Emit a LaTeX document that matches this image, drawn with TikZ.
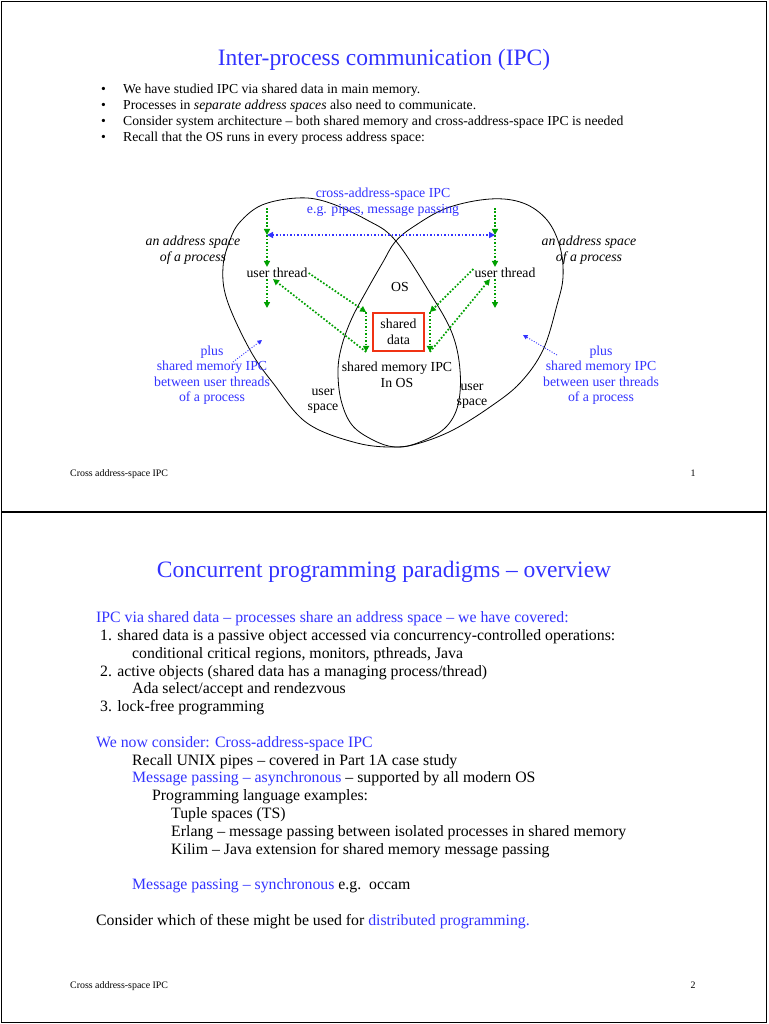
\documentclass[tikz,border=0pt]{standalone}
\usepackage{fontspec}
\setmainfont{Liberation Serif}
\usetikzlibrary{arrows.meta}
\definecolor{ipcblue}{RGB}{51,51,255}
\definecolor{ipcgreen}{RGB}{0,160,0}
\definecolor{ipcred}{RGB}{240,50,20}
\tikzset{
  slidetitle/.style={font=\fontsize{23.5}{28}\selectfont, text=ipcblue, anchor=base, inner sep=0pt},
  bodyA/.style={font=\fontsize{13.7}{16}\selectfont, anchor=base west, inner sep=0pt},
  bodyB/.style={font=\fontsize{15.8}{18}\selectfont, anchor=base west, inner sep=0pt},
  lbl/.style={font=\fontsize{13.8}{15.5}\selectfont, align=center, inner sep=1pt},
  footer/.style={font=\fontsize{9.9}{11}\selectfont, anchor=base west, inner sep=0pt},
  garrow/.style={ipcgreen, line width=1.7pt, dash pattern=on 1.7pt off 1.8pt, -{Triangle[length=6pt,width=6pt]}},
  barrow/.style={ipcblue, line width=1.7pt, dash pattern=on 1.7pt off 1.8pt, {Triangle[length=6pt,width=6pt]}-{Triangle[length=6pt,width=6pt]}},
  bthin/.style={ipcblue, line width=0.9pt, dash pattern=on 1pt off 1.6pt, -{Triangle[length=4.5pt,width=4.5pt]}}
}
\begin{document}
\begin{tikzpicture}[x=1pt,y=-1pt]
\useasboundingbox (0,0) rectangle (768,1024);
% frames of the two slides
\draw[line width=1.5pt] (1.5,1.5) rectangle (766.5,1022.5);
\draw[line width=1.5pt] (1.5,512) -- (766.5,512);

% ---------- slide 1 ----------
\node[slidetitle] (t1) at (384,66) {Inter-process communication (IPC)};
\foreach \txt [count=\i] in {We have studied IPC via shared data in main memory.,
    Processes in \textit{separate address spaces} also need to communicate.,
    Consider system architecture – both shared memory and cross-address-space IPC is needed,
    Recall that the OS runs in every process address space:}{
  \node[bodyA] (dot\i) at (101,78+16*\i) {\textbullet};
  \node[bodyA] (b\i) at (123,78+16*\i) {\txt};
}

% the two address spaces
\draw[line width=0.8pt] plot[smooth cycle, tension=0.6] coordinates {(297,198) (327,202) (367,220) (395,240) (430,293) (452,333) (460,370) (458,405) (445,428) (420,442) (397,447) (357,443) (307,423) (273,383) (250,350) (227,300) (223,267) (230,240) (240,222) (262,205)};
\draw[line width=0.8pt] plot[smooth cycle, tension=0.6] coordinates {(490,199) (523,203) (547,220) (560,247) (563,277) (557,305) (543,350) (520,383) (490,407) (453,430) (420,443) (395,447) (373,440) (352,425) (341,400) (338,370) (342,345) (352,318) (367,290) (383,262) (395,242) (413,227) (447,208)};

\node[lbl, text=ipcblue] (cross) at (383,202) {cross-address-space IPC\\e.g. pipes, message passing};
\node[lbl, font=\fontsize{13.8}{15.5}\selectfont\itshape] (las) at (193,250) {an address space\\of a process};
\node[lbl, font=\fontsize{13.8}{15.5}\selectfont\itshape] (ras) at (589,250) {an address space\\of a process};
\node[lbl] (lut) at (277,273) {user thread};
\node[lbl] (rut) at (505,273) {user thread};
\node[lbl] (os) at (400,287) {OS};
\node[lbl, draw=ipcred, line width=1.8pt, minimum width=51pt, minimum height=38pt] (sd) at (398.5,332) {shared\\data};
\node[lbl] (smos) at (397,375) {shared memory IPC\\In OS};
\node[lbl] (lus) at (323,401) {user\\space};
\node[lbl] (rus) at (472,396) {user\\space};
\node[lbl, text=ipcblue] (lplus) at (212,375) {plus\\shared memory IPC\\between user threads\\of a process};
\node[lbl, text=ipcblue] (rplus) at (601,375) {plus\\shared memory IPC\\between user threads\\of a process};

\coordinate (ltop) at (267,208); \coordinate (lmid) at (267,235); \coordinate (lbot) at (267,308);
\coordinate (rtop) at (495,208); \coordinate (rmid) at (495,235); \coordinate (rbot) at (495,308);
\draw[garrow] (ltop) -- (lmid); \draw[garrow] (lmid) -- (lmid |- lut.north); \draw[garrow] (lmid |- lut.south) -- (lbot);
\draw[garrow] (rtop) -- (rmid); \draw[garrow] (rmid) -- (rmid |- rut.north); \draw[garrow] (rmid |- rut.south) -- (rbot);
\draw[barrow] (lmid) -- (rmid);
\draw[garrow] (lut.east) -- ([xshift=-6pt]sd.north west);
\draw[garrow] ([xshift=-6pt]sd.north west) -- ([xshift=-6pt]sd.south west);
\draw[garrow] ([xshift=-6pt]sd.south west) -- ([xshift=-4pt]lut.south);
\draw[garrow] ([yshift=4pt]rut.west) -- ([xshift=5pt]sd.north east);
\draw[garrow] ([xshift=5pt]sd.north east) -- ([xshift=5pt]sd.south east);
\draw[garrow] ([xshift=5pt]sd.south east) -- ([xshift=-15pt]rut.south);

\coordinate (lpin) at (262,340); \coordinate (rpin) at (523,335);
\draw[bthin] (233,362) -- (lpin);
\draw[bthin] (557,355) -- (rpin);

\node[footer] (f1) at (70,476) {Cross address-space IPC};
\node[footer, anchor=base] (n1) at (693,476) {1};

% ---------- slide 2 ----------
\node[slidetitle] (t2) at (384,577) {Concurrent programming paradigms – overview};
\node[bodyB, text=ipcblue] (a0) at (96,622) {IPC via shared data – processes share an address space – we have covered:};
\node[bodyB] (a1) at (100,640) {1. shared data is a passive object accessed via concurrency-controlled operations:};
\node[bodyB] (a2) at (132,658) {conditional critical regions, monitors, pthreads, Java};
\node[bodyB] (a3) at (100,676) {2. active objects (shared data has a managing process/thread)};
\node[bodyB] (a4) at (132,693) {Ada select/accept and rendezvous};
\node[bodyB] (a5) at (100,711) {3. lock-free programming};
\node[bodyB, text=ipcblue] (c0) at (96,747) {We now consider: Cross-address-space IPC};
\node[bodyB] (c1) at (132,765) {Recall UNIX pipes – covered in Part 1A case study};
\node[bodyB] (c2) at (132,782) {\textcolor{ipcblue}{Message passing – asynchronous} – supported by all modern OS};
\node[bodyB] (c3) at (152,800) {Programming language examples:};
\node[bodyB] (c4) at (171,818) {Tuple spaces (TS)};
\node[bodyB] (c5) at (171,836) {Erlang – message passing between isolated processes in shared memory};
\node[bodyB] (c6) at (171,854) {Kilim – Java extension for shared memory message passing};
\node[bodyB] (c7) at (132,889) {\textcolor{ipcblue}{Message passing – synchronous} e.g.\ \ occam};
\node[bodyB] (c8) at (96,925) {Consider which of these might be used for \textcolor{ipcblue}{distributed programming.}};

\node[footer] (f2) at (70,988) {Cross address-space IPC};
\node[footer, anchor=base] (n2) at (693,988) {2};
\end{tikzpicture}
\end{document}
